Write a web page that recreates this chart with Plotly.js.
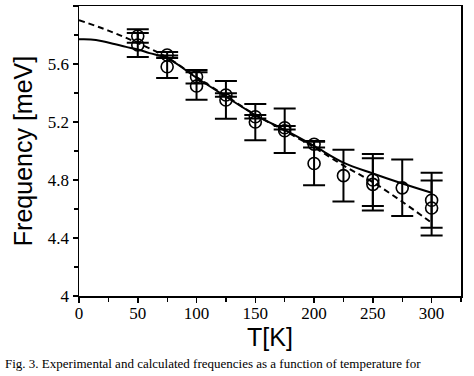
<!DOCTYPE html>
<html>
<head>
<meta charset="utf-8">
<script src="https://cdn.plot.ly/plotly-3.0.1.min.js"></script>
<style>html,body{margin:0;padding:0;background:#fff;overflow:hidden}</style>
</head>
<body>
<div id="chart" style="width:474px;height:376px;"></div>
<script>
// Series 1 (smaller error bars at low T)
var t1 = [50, 75, 100, 125, 150, 175, 200, 250, 300];
var f1 = [5.793, 5.662, 5.512, 5.386, 5.236, 5.160, 5.047, 4.800, 4.660];
var e1 = [0.046, 0.020, 0.046, 0.012, 0.012, 0.012, 0.022, 0.180, 0.190];
// Series 2
var t2 = [50, 75, 100, 125, 150, 175, 200, 225, 250, 275, 300];
var f2 = [5.731, 5.581, 5.448, 5.352, 5.200, 5.140, 4.914, 4.830, 4.770, 4.746, 4.607];
var e2 = [0.083, 0.077, 0.095, 0.130, 0.125, 0.153, 0.150, 0.178, 0.180, 0.195, 0.190];
// Solid model curve
var tS = [0, 10, 20, 30, 40, 50, 60, 75, 100, 125, 150, 175, 200, 225, 250, 275, 300];
var fS = [5.770, 5.769, 5.757, 5.738, 5.718, 5.700, 5.675, 5.640, 5.505, 5.375, 5.248, 5.145, 5.035, 4.920, 4.845, 4.776, 4.712];
// Dashed model curve
var tD = [0, 25, 50, 75, 100, 125, 150, 175, 200, 225, 250, 275, 300];
var fD = [5.903, 5.830, 5.745, 5.645, 5.510, 5.380, 5.250, 5.140, 5.025, 4.900, 4.785, 4.650, 4.505];

var xTicks = [0, 50, 100, 150, 200, 250, 300];
var xTickText = ['0', '50', '100', '150', '200', '250', '300'];
var yTicks = [4, 4.4, 4.8, 5.2, 5.6, 6];
var yTickText = ['4', '4.4', '4.8', '5.2', '5.6', '6'];

var serifCss = 'font-family:Liberation Serif,Times New Roman,serif';
var wrap = function (arr) {
  return arr.map(function (s) { return '<span style="' + serifCss + '">' + s + '</span>'; });
};

var errStyle = function (arr) {
  return {type: 'data', array: arr, visible: true, color: '#000', thickness: 2, width: 11};
};
var markerStyle = {symbol: 'circle-open', size: 12, color: '#000', line: {color: '#000', width: 1.6}};

var data = [
  {x: tS, y: fS, mode: 'lines', line: {color: '#000', width: 2, shape: 'spline'}, hoverinfo: 'skip'},
  {x: tD, y: fD, mode: 'lines', line: {color: '#000', width: 2, dash: '6px,4px', shape: 'spline'}, hoverinfo: 'skip'},
  {x: t1, y: f1, mode: 'markers', marker: markerStyle, error_y: errStyle(e1)},
  {x: t2, y: f2, mode: 'markers', marker: markerStyle, error_y: errStyle(e2)}
];

var serif = 'Liberation Serif';
var tickFont = {family: serif, size: 17, color: '#000'};
var titleFont = {family: 'Liberation Sans', size: 25, color: '#000'};

var layout = {
  width: 474, height: 376,
  margin: {l: 79, r: 13, t: 6, b: 80},
  paper_bgcolor: '#fff', plot_bgcolor: '#fff',
  font: {family: serif, size: 17, color: '#000'},
  showlegend: false,
  xaxis: {
    range: [0, 325], tickvals: xTicks, ticktext: wrap(xTickText), ticks: 'outside', ticklen: 5, tickwidth: 1.5,
    tickcolor: '#000', showline: true, linecolor: '#000', linewidth: 1.5, mirror: true,
    showgrid: false, zeroline: false, tickfont: tickFont, ticklabelstandoff: -4,
    minor: {dtick: 25, ticks: 'outside', ticklen: 4, tickwidth: 1.2, tickcolor: '#000', showgrid: false},
    title: {text: 'T[K]', font: titleFont, standoff: 0}
  },
  yaxis: {
    range: [4, 6], tickvals: yTicks, ticktext: wrap(yTickText), ticks: 'outside', ticklen: 5, tickwidth: 1.5,
    tickcolor: '#000', showline: true, linecolor: '#000', linewidth: 1.5, mirror: true,
    showgrid: false, zeroline: false, tickfont: tickFont,
    minor: {dtick: 0.2, ticks: 'outside', ticklen: 4, tickwidth: 1.2, tickcolor: '#000', showgrid: false},
    title: {text: 'Frequency [meV]', font: titleFont, standoff: 8}
  },
  annotations: [{
    xref: 'paper', yref: 'paper', x: -0.2, y: -0.2, xanchor: 'left', yanchor: 'top',
    text: 'Fig. 3. Experimental and calculated frequencies as a function of temperature for',
    showarrow: false, font: {family: serif, size: 13, color: '#000'}
  }]
};

Plotly.newPlot('chart', data, layout, {staticPlot: true, displayModeBar: false});
</script>
</body>
</html>
